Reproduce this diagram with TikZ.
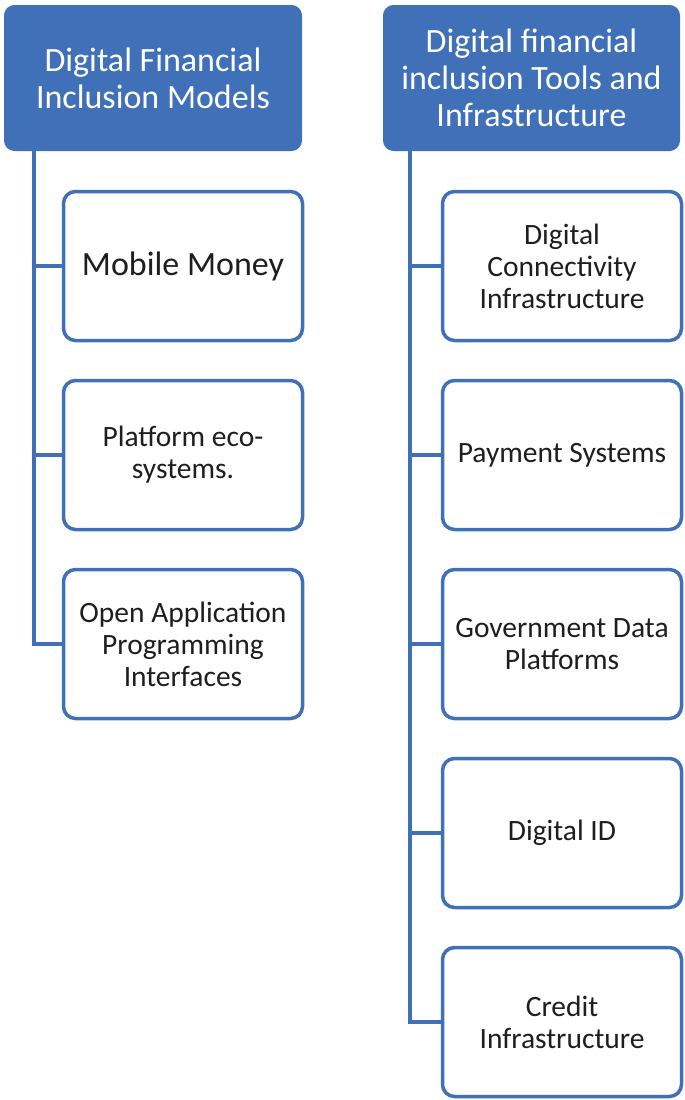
\documentclass[tikz,border=0pt]{standalone}
\usepackage{fontspec}
\setmainfont{Carlito}
\definecolor{hdr}{RGB}{64,112,183}
\definecolor{txt}{RGB}{30,30,30}
\begin{document}
\begin{tikzpicture}[x=1pt,y=-1pt,
  hdrbox/.style={fill=hdr,draw=hdr,line width=1pt,rounded corners=10pt,text=white,align=center,font=\fontsize{34}{37}\selectfont,inner sep=0pt},
  kid/.style={draw=hdr,line width=3.5pt,rounded corners=12pt,fill=white,text=txt,align=center,font=\fontsize{29.5}{32}\selectfont,inner sep=0pt,minimum width=239pt,minimum height=149pt},
  conn/.style={draw=hdr,line width=3.5pt}]
\useasboundingbox (0,0) rectangle (685,1100);
\node[hdrbox,minimum width=297pt,minimum height=145pt] (L) at (153,78) {Digital Financial\\Inclusion Models};
\node[hdrbox,minimum width=296pt,minimum height=145pt] (R) at (531.5,78) {Digital financial\\inclusion Tools and\\Infrastructure};
\node[kid,font=\fontsize{34}{38}\selectfont] (l1) at (183,266) {Mobile Money};
\node[kid] (l2) at (183,455) {Platform eco-\\systems.};
\node[kid] (l3) at (183,644) {Open Application\\Programming\\Interfaces};
\node[kid] (r1) at (562,266) {Digital\\Connectivity\\Infrastructure};
\node[kid] (r2) at (562,455) {Payment Systems};
\node[kid] (r3) at (562,644) {Government Data\\Platforms};
\node[kid] (r4) at (562,833) {Digital ID};
\node[kid] (r5) at (562,1022) {Credit\\Infrastructure};
\coordinate (lt) at (34,151);
\coordinate (rt) at (410,151);
\draw[conn] (lt) |- (l3.west);
\draw[conn] (lt |- l1.west) -- (l1.west);
\draw[conn] (lt |- l2.west) -- (l2.west);
\draw[conn] (rt) |- (r5.west);
\foreach \n in {r1,r2,r3,r4} \draw[conn] (rt |- \n.west) -- (\n.west);
\end{tikzpicture}
\end{document}
